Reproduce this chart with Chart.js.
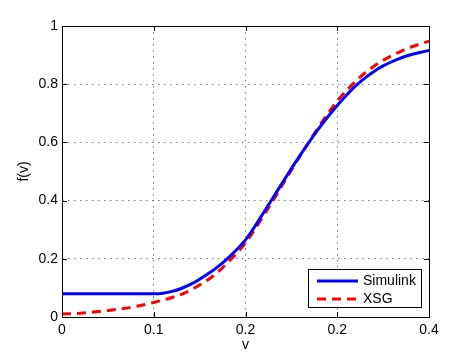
<!DOCTYPE html>
<html>
<head>
<meta charset="utf-8">
<script src="https://cdn.jsdelivr.net/npm/chart.js@4.4.1/dist/chart.umd.min.js"></script>
<style>
html,body{margin:0;padding:0;background:#fff;}
#wrap{width:474px;height:356px;position:relative;}
</style>
</head>
<body>
<div id="wrap"><canvas id="c" width="474" height="356"></canvas></div>
<script>
// ---- data ----
const simulinkV = [0, 0.05, 0.1, 0.11, 0.12, 0.13, 0.14, 0.15, 0.16, 0.17, 0.18, 0.19, 0.2, 0.21, 0.22, 0.23, 0.24, 0.25, 0.26, 0.27, 0.28, 0.29, 0.3, 0.31, 0.32, 0.33, 0.34, 0.35, 0.36, 0.37, 0.38, 0.39, 0.4];
const simulinkF = [0.08, 0.08, 0.08, 0.082, 0.088, 0.098, 0.112, 0.13, 0.15, 0.173, 0.2, 0.23, 0.265, 0.31, 0.36, 0.41, 0.46, 0.51, 0.558, 0.604, 0.648, 0.689, 0.727, 0.762, 0.794, 0.821, 0.844, 0.863, 0.878, 0.891, 0.901, 0.909, 0.916];
const xsgV = [0, 0.02, 0.04, 0.06, 0.08, 0.1, 0.11, 0.12, 0.13, 0.14, 0.15, 0.16, 0.17, 0.18, 0.19, 0.2, 0.21, 0.22, 0.23, 0.24, 0.25, 0.26, 0.27, 0.28, 0.29, 0.3, 0.31, 0.32, 0.33, 0.34, 0.35, 0.36, 0.37, 0.38, 0.39, 0.4];
const xsgF = [0.01, 0.013, 0.019, 0.026, 0.036, 0.05, 0.058, 0.067, 0.078, 0.092, 0.11, 0.13, 0.155, 0.185, 0.218, 0.255, 0.3, 0.35, 0.4, 0.453, 0.505, 0.556, 0.606, 0.654, 0.7, 0.742, 0.778, 0.81, 0.838, 0.862, 0.882, 0.899, 0.914, 0.927, 0.938, 0.948];
const xTickValues = [0, 0.1, 0.2, 0.3, 0.4];
const xTickLabels = ['0', '0.1', '0.2', '0.2', '0.4'];
const yTickValues = [0, 0.2, 0.4, 0.6, 0.8, 1];
const yTickLabels = ['0', '0.2', '0.4', '0.6', '0.8', '1'];
const seriesNames = ['Simulink', 'XSG'];
const xTitle = 'v';
const yTitle = 'f(v)';

const FONT = 'Liberation Sans, Arial, Helvetica, sans-serif';

const toPts = (xs, ys) => xs.map((x, i) => ({x: x, y: ys[i]}));

const framePlugin = {
  id: 'frame',
  afterDatasetsDraw(chart) {
    const {ctx, chartArea: a, scales} = chart;
    ctx.save();
    ctx.strokeStyle = '#000';
    ctx.lineWidth = 1;
    ctx.setLineDash([]);
    ctx.strokeRect(Math.round(a.left) + 0.5, Math.round(a.top) + 0.5, Math.round(a.right - a.left), Math.round(a.bottom - a.top));
    const tl = 5;
    ctx.beginPath();
    xTickValues.forEach(v => {
      const px = Math.round(scales.x.getPixelForValue(v)) + 0.5;
      ctx.moveTo(px, a.bottom); ctx.lineTo(px, a.bottom - tl);
      ctx.moveTo(px, a.top); ctx.lineTo(px, a.top + tl);
    });
    yTickValues.forEach(v => {
      const py = Math.round(scales.y.getPixelForValue(v)) + 0.5;
      ctx.moveTo(a.left, py); ctx.lineTo(a.left + tl, py);
      ctx.moveTo(a.right, py); ctx.lineTo(a.right - tl, py);
    });
    ctx.stroke();

    // legend box inside lower right
    const bw = 113, bh = 38;
    const bx = Math.round(a.right) - 8 - bw;
    const by = Math.round(a.bottom) - 10 - bh;
    ctx.fillStyle = '#fff';
    ctx.fillRect(bx, by, bw, bh);
    ctx.strokeRect(bx + 0.5, by + 0.5, bw, bh);
    ctx.font = '14px ' + FONT;
    ctx.textBaseline = 'middle';
    ctx.textAlign = 'left';
    chart.data.datasets.forEach((ds, i) => {
      const ly = by + 12 + i * 18;
      ctx.beginPath();
      ctx.strokeStyle = ds.borderColor;
      ctx.lineWidth = ds.borderWidth;
      ctx.setLineDash(ds.borderDash || []);
      ctx.moveTo(bx + 9, ly); ctx.lineTo(bx + 50, ly);
      ctx.stroke();
      ctx.setLineDash([]);
      ctx.fillStyle = '#000';
      ctx.fillText(ds.label, bx + 55, ly);
    });
    ctx.restore();
  }
};

new Chart(document.getElementById('c'), {
  type: 'line',
  data: {
    datasets: [
      {label: seriesNames[0], data: toPts(simulinkV, simulinkF), borderColor: '#0000ff', borderWidth: 3, pointRadius: 0, fill: false, cubicInterpolationMode: 'monotone'},
      {label: seriesNames[1], data: toPts(xsgV, xsgF), borderColor: '#ff0000', borderWidth: 3, borderDash: [9, 6], pointRadius: 0, fill: false, cubicInterpolationMode: 'monotone'}
    ]
  },
  options: {
    responsive: false,
    animation: false,
    layout: {padding: {left: 0, right: 45, top: 26, bottom: 0}},
    plugins: {legend: {display: false}, tooltip: {enabled: false}},
    scales: {
      x: {
        type: 'linear', min: 0, max: 0.4,
        afterBuildTicks: s => { s.ticks = xTickValues.map(v => ({value: v})); },
        afterFit: s => { s.height = 39; },
        ticks: {
          padding: 5, color: '#000', maxRotation: 0, autoSkip: false,
          font: {family: FONT, size: 14},
          callback: (v, i) => xTickLabels[i]
        },
        grid: {color: '#777', lineWidth: 1, drawTicks: false},
        border: {display: false, dash: [1.5, 4.5]},
        title: {display: true, text: xTitle, color: '#000', font: {family: FONT, size: 14}, padding: {top: 0, bottom: 2}}
      },
      y: {
        type: 'linear', min: 0, max: 1,
        afterBuildTicks: s => { s.ticks = yTickValues.map(v => ({value: v})); },
        afterFit: s => { s.width = 62; },
        ticks: {
          padding: 4, color: '#000', autoSkip: false,
          font: {family: FONT, size: 14},
          callback: (v, i) => yTickLabels[i]
        },
        grid: {color: '#777', lineWidth: 1, drawTicks: false},
        border: {display: false, dash: [1.5, 4.5]},
        title: {display: true, text: yTitle, color: '#000', font: {family: FONT, size: 14}, padding: {top: 16, bottom: 0}}
      }
    }
  },
  plugins: [framePlugin]
});
</script>
</body>
</html>
